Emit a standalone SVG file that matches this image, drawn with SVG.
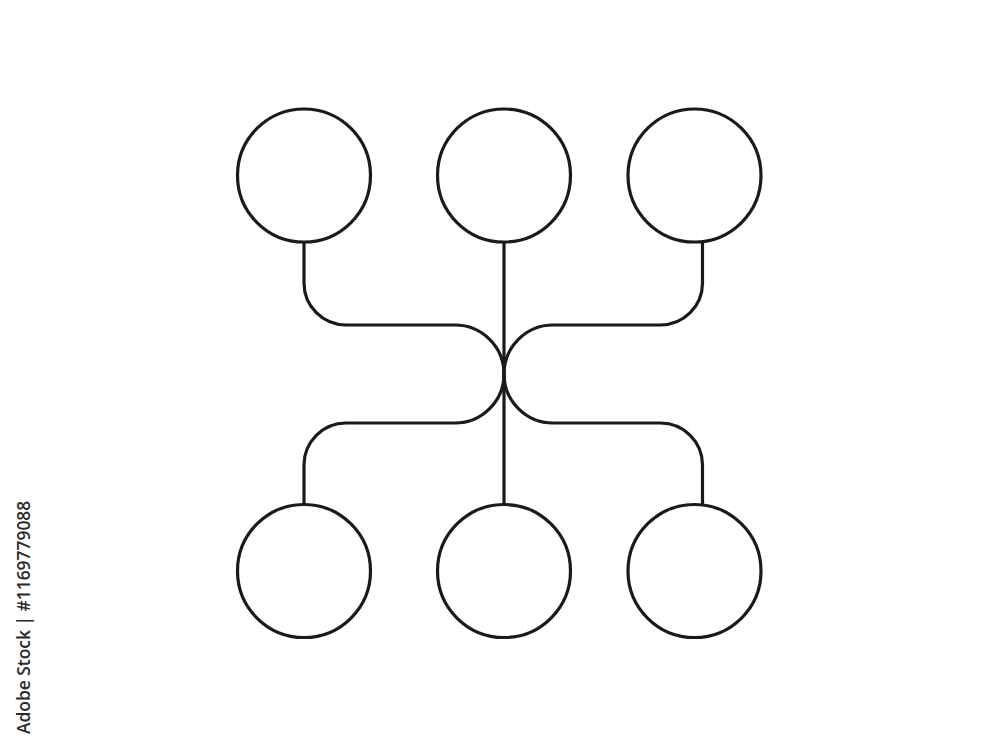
<svg xmlns="http://www.w3.org/2000/svg" width="1000" height="750" viewBox="0 0 1000 750">
  <style>
    .node circle { fill: #ffffff; stroke: #1a1a1a; stroke-width: 3.2; }
    .conn path { fill: none; stroke: #1a1a1a; stroke-width: 3.2; }
    .wm { font-family: "Open Sans", "Liberation Sans", sans-serif; font-size: 17.4px; font-weight: 600; fill: #2b2b2b; }
  </style>
  <rect width="1000" height="750" fill="#ffffff"/>
  <g id="connectors" class="conn">
    <path d="M304,242 V283 A42,42 0 0 0 346,325 H455 A49,49 0 0 1 504,374 A49,49 0 0 1 455,423 H346 A42,42 0 0 0 304,465 V505"/>
    <path d="M702.5,242 V283 A42,42 0 0 1 660.5,325 H553 A49,49 0 0 0 504,374 A49,49 0 0 0 553,423 H660.5 A42,42 0 0 1 702.5,465 V505"/>
    <path d="M504,242 V505"/>
  </g>
  <g id="node-top-left" class="node"><circle cx="304" cy="175.5" r="66.5"/></g>
  <g id="node-top-middle" class="node"><circle cx="504" cy="175.5" r="66.5"/></g>
  <g id="node-top-right" class="node"><circle cx="694.5" cy="175.5" r="66.5"/></g>
  <g id="node-bottom-left" class="node"><circle cx="304" cy="571" r="66.5"/></g>
  <g id="node-bottom-middle" class="node"><circle cx="504" cy="571" r="66.5"/></g>
  <g id="node-bottom-right" class="node"><circle cx="694.5" cy="571" r="66.5"/></g>
  <text class="wm" x="30" y="734" transform="rotate(-90 30 734)">Adobe Stock | #1169779088</text>
</svg>
